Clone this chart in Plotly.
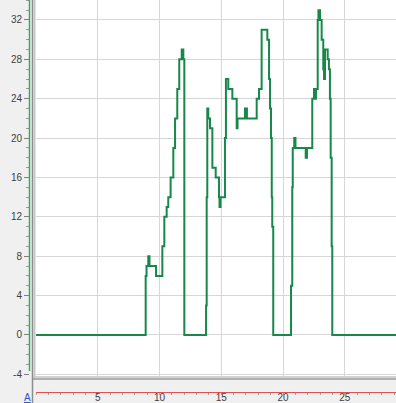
import plotly.graph_objects as go

# time (s) and signal values (step line)
times = [0.0,
         8.88, 8.95, 9.09, 9.19, 9.72, 10.23, 10.39, 10.58, 10.71, 10.90, 11.12, 11.26, 11.44, 11.60, 11.80, 11.93, 12.01,
         13.77, 13.82, 13.87, 13.95, 14.09, 14.28, 14.55, 14.82, 14.86, 14.94, 15.30, 15.38, 15.57, 15.90, 16.25, 16.32,
         16.92, 17.08, 17.87, 18.06, 18.27, 18.73, 18.87, 18.95, 19.03, 19.09, 19.13, 19.21,
         20.65, 20.75, 20.79, 20.91, 21.01, 21.84, 21.94, 22.37, 22.51, 22.59, 22.67, 22.81, 22.87, 23.00, 23.13,
         23.26, 23.32, 23.40, 23.62, 23.72, 23.80, 23.86, 23.94, 23.99,
         29.2]
values = [0,
          6, 7, 8, 7, 6, 9, 12, 13, 14, 16, 19, 22, 25, 28, 29, 28, 0,
          3, 14, 23, 22, 21, 17, 16, 14, 13, 14, 20, 26, 25, 24, 21, 22,
          23, 22, 24, 25, 31, 30, 26, 23, 20, 14, 11, 0,
          5, 15, 19, 20, 19, 18, 19, 24, 25, 24, 25, 32, 33, 32, 30,
          27, 26, 29, 28, 27, 24, 18, 9, 0,
          0]

y_ticks = [-4, 0, 4, 8, 12, 16, 20, 24, 28, 32]
x_ticks = [5, 10, 15, 20, 25]

W, H = 396, 403
ML, MB = 29, 11
PW = W - ML            # 367
PH = H - MB            # 392
plot_left_px = 36
plot_bottom_px = 376

fig = go.Figure()
fig.add_trace(go.Scatter(x=times, y=values, mode="lines", line_shape="hv",
                         line=dict(color="#17884a", width=2), hoverinfo="skip"))

def px_x(px):
    return (px - ML) / PW

def px_y(py):
    return (H - MB - py) / PH

shapes = [
    # green axis strip line
    dict(type="line", xref="paper", yref="paper", x0=px_x(29.5), x1=px_x(29.5), y0=px_y(0), y1=px_y(371),
         line=dict(color="#2fae5a", width=1.5)),
    # gray vertical double border
    dict(type="line", xref="paper", yref="paper", x0=px_x(32.5), x1=px_x(32.5), y0=px_y(0), y1=px_y(403),
         line=dict(color="#8c8c8c", width=1.5)),
    dict(type="line", xref="paper", yref="paper", x0=px_x(34.5), x1=px_x(34.5), y0=px_y(0), y1=px_y(378),
         line=dict(color="#c4c4c4", width=1.5)),
    # gray horizontal double border under the plot
    dict(type="line", xref="paper", yref="paper", x0=px_x(33), x1=1, y0=px_y(377), y1=px_y(377),
         line=dict(color="#c8c8c8", width=1.5)),
    dict(type="line", xref="paper", yref="paper", x0=px_x(33), x1=1, y0=px_y(379), y1=px_y(379),
         line=dict(color="#9a9a9a", width=1.5)),
]

fig.update_layout(
    width=W, height=H,
    margin=dict(l=ML, r=0, t=0, b=MB, pad=0, autoexpand=False),
    paper_bgcolor="#f0f0f0",
    plot_bgcolor="#ffffff",
    showlegend=False,
    shapes=shapes,
    font=dict(family="Liberation Sans, Arial, sans-serif", size=10, color="#404040"),
    xaxis=dict(
        domain=[(plot_left_px - ML) / PW, 1],
        range=[0, 29.15],
        anchor="free", position=0,
        automargin=False,
        tickmode="array", tickvals=x_ticks, ticktext=[str(v) for v in x_ticks],
        showgrid=True, gridcolor="#d6d6d6", gridwidth=1,
        zeroline=False,
        showline=True, linecolor="#e05050", linewidth=1,
        ticks="outside", ticklen=2, tickcolor="#a0a0a0",
        minor=dict(dtick=1, ticks="outside", ticklen=2, tickcolor="#a0a0a0", showgrid=False),
        ticklabelstandoff=-6,
        tickfont=dict(size=10, color="#404040"),
    ),
    yaxis=dict(
        domain=[(H - MB - plot_bottom_px) / PH, 1],
        range=[-4.17, 34.03],
        anchor="free", position=0,
        automargin=False,
        tickmode="array", tickvals=y_ticks, ticktext=[str(v) for v in y_ticks],
        showgrid=True, gridcolor="#d6d6d6", gridwidth=1,
        zeroline=False,
        showline=False,
        ticks="outside", ticklen=5, tickcolor="#808080",
        minor=dict(dtick=1, ticks="outside", ticklen=3, tickcolor="#9a9a9a", showgrid=False),
        ticklabelstandoff=0,
        tickfont=dict(size=10, color="#404040"),
    ),
    annotations=[
        dict(text="<u>A</u>", xref="paper", yref="paper", x=px_x(27), y=px_y(397),
             xanchor="center", yanchor="middle", showarrow=False,
             font=dict(size=10, color="#3050c0")),
    ],
)

fig.write_html("out.html")
